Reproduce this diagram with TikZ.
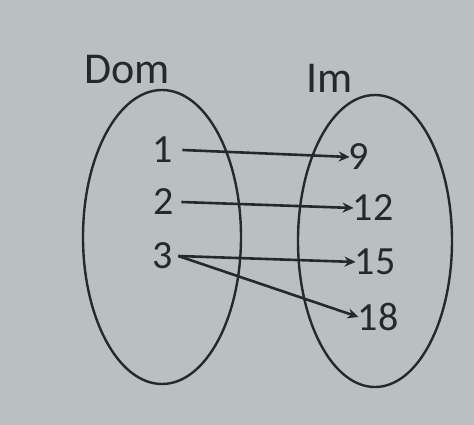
\documentclass[tikz,border=0pt]{standalone}
\usepackage{fontspec}
\setmainfont{Carlito}
\usetikzlibrary{arrows.meta}
\definecolor{bg}{RGB}{186,191,191}
\definecolor{ink}{RGB}{38,41,41}
\begin{document}
\begin{tikzpicture}[x=1pt,y=-1pt,
  lbl/.style={text=ink,font=\fontsize{44}{48}\selectfont,inner sep=0pt},
  num/.style={text=ink,font=\fontsize{40}{44}\selectfont,inner sep=1pt},
  setline/.style={draw=ink,line width=2.4pt},
  maparrow/.style={draw=ink,line width=2.6pt,-{Stealth[length=11pt,width=10pt]}}]
\fill[bg] (0,0) rectangle (474,425);
\useasboundingbox (0,0) rectangle (474,425);
\node[lbl] (dom) at (127,70) {Dom};
\node[lbl] (im) at (330,78) {Im};
\path[setline] (162,237) ellipse [x radius=79, y radius=147];
\path[setline] (375,241) ellipse [x radius=77, y radius=146];
\node[num] (a1) at (163,150) {1};
\node[num] (a2) at (164,202) {2};
\node[num] (a3) at (163,256) {3};
\node[num] (b9) at (359,157) {9};
\node[num] (b12) at (373,208) {12};
\node[num] (b15) at (375,262) {15};
\node[num] (b18) at (378,317) {18};
\draw[maparrow] (a1.east) ++(8,0) -- ([xshift=2pt]b9.west);
\draw[maparrow] (a2.east) ++(6,0) -- ([xshift=2pt]b12.west);
\draw[maparrow] (a3.east) ++(4,0) coordinate (s3) -- ([xshift=2pt]b15.west);
\draw[maparrow] (s3) -- ([xshift=2pt]b18.west);
\end{tikzpicture}
\end{document}
